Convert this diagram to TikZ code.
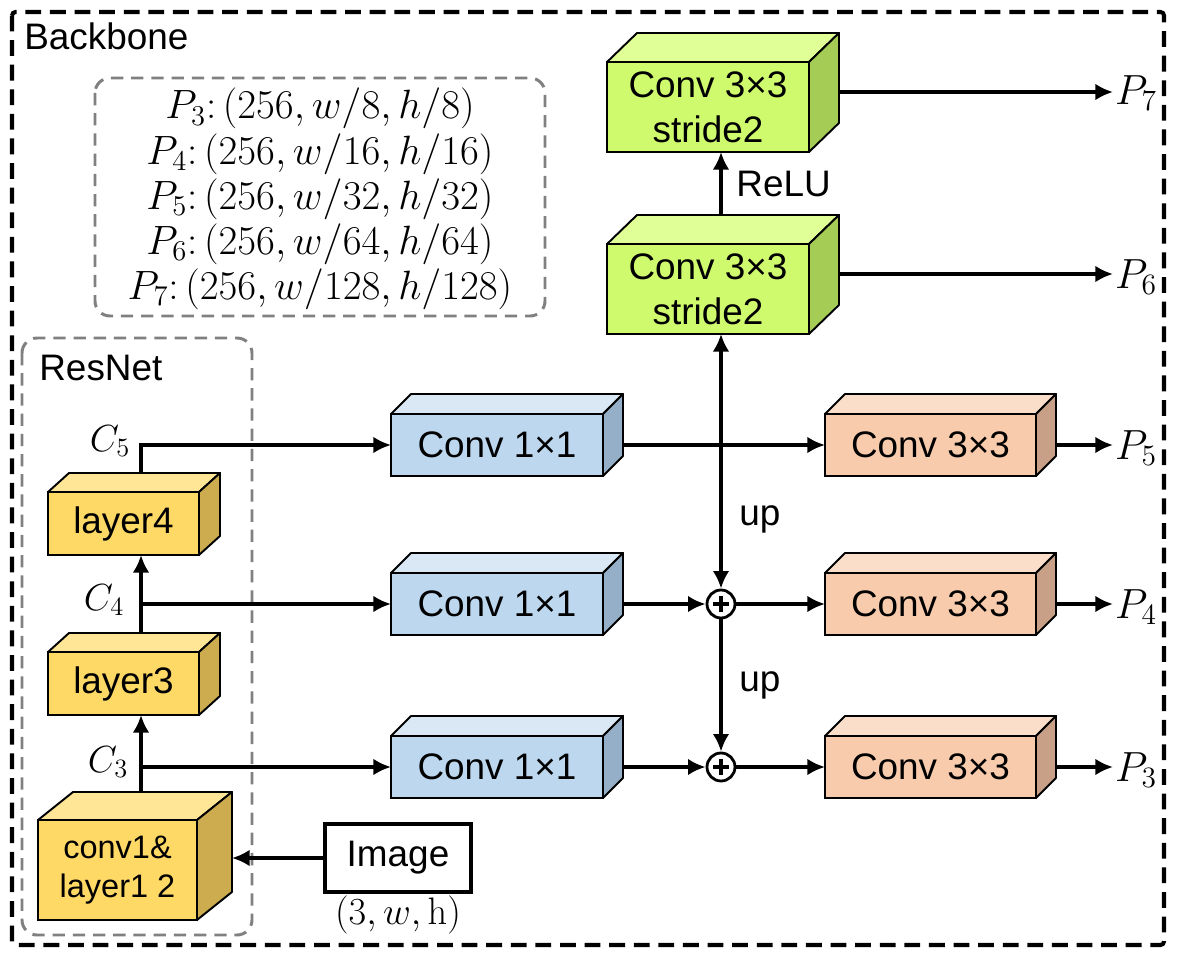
\RequirePackage{fix-cm}
\documentclass[tikz,border=0pt]{standalone}
\usepackage[no-math]{fontspec}
\setmainfont{Liberation Sans}
\usepackage{xcolor}
\usepackage{tikz}
\usetikzlibrary{arrows.meta}

\definecolor{yfront}{RGB}{255,217,102}
\definecolor{ytop}{RGB}{255,230,150}
\definecolor{yside}{RGB}{205,172,80}
\definecolor{bfront}{RGB}{189,215,238}
\definecolor{btop}{RGB}{218,232,245}
\definecolor{bside}{RGB}{150,175,200}
\definecolor{ofront}{RGB}{248,203,173}
\definecolor{otop}{RGB}{251,222,202}
\definecolor{oside}{RGB}{200,160,135}
\definecolor{gfront}{RGB}{208,250,110}
\definecolor{gtop}{RGB}{224,255,150}
\definecolor{gside}{RGB}{165,205,85}
\definecolor{dashgray}{RGB}{128,128,128}

\tikzset{
  txt/.style={font=\fontsize{21}{25.5}\selectfont, inner sep=0pt},
  cube/.style={draw, line width=1.1pt, outer sep=0pt, inner sep=0pt, align=center, font=\fontsize{21}{25.5}\selectfont},
  arr/.style={line width=2.7pt, -{Latex[length=10pt, width=9.5pt]}},
  group/.style={dashgray, line width=1.7pt, dash pattern=on 7pt off 4.5pt, rounded corners=0.3cm},
  frame/.style={black, line width=2.3pt, dash pattern=on 9pt off 5pt, rounded corners=2pt},
  plabel/.style={font=\fontsize{24}{28}\selectfont, inner sep=1pt},
  clabel/.style={font=\fontsize{21.5}{26}\selectfont, inner sep=1pt},
  addnode/.style={circle, draw, line width=1.6pt, fill=white, minimum size=0.56cm, inner sep=0pt,
    path picture={\draw[line width=1.8pt] ([xshift=-0.16cm]path picture bounding box.center) -- ([xshift=0.16cm]path picture bounding box.center)
      ([yshift=-0.16cm]path picture bounding box.center) -- ([yshift=0.16cm]path picture bounding box.center);}}
}

% top and right faces of a block: node, depth x, depth y, top colour, side colour
\newcommand{\drawdepth}[5]{%
  \filldraw[fill=#4, line width=1.1pt, line join=round] (#1.north west) -- ++(#2,-#3) -- ([shift={(#2,-#3)}]#1.north east) -- (#1.north east) -- cycle;
  \filldraw[fill=#5, line width=1.1pt, line join=round] (#1.north east) -- ++(#2,-#3) -- ([shift={(#2,-#3)}]#1.south east) -- (#1.south east) -- cycle;
}

\begin{document}
\begin{tikzpicture}[x=0.02cm, y=-0.02cm]
\useasboundingbox (0,0) rectangle (1181,953);

\draw[frame] (12,12) rectangle (1164,945);
\node[txt, anchor=west] (backbone) at (24,36) {Backbone};

% output sizes
\draw[group] (95,78) rectangle (545,316);
\node[align=center, font=\fontsize{23.3}{25.7}\selectfont] (sizes) at (320,199)
  {$P_3{:}\,(256, w/8, h/8)$\\ $P_4{:}\,(256, w/16, h/16)$\\ $P_5{:}\,(256, w/32, h/32)$\\
   $P_6{:}\,(256, w/64, h/64)$\\ $P_7{:}\,(256, w/128, h/128)$};

% ResNet
\draw[group] (22,338) rectangle (252,935);
\node[txt, anchor=west] (resnet) at (39,368) {ResNet};

\node[cube, fill=yfront, minimum width=3.18cm, minimum height=2cm, font=\fontsize{18.5}{22}\selectfont] (conv1) at (117.5,870) {conv1\&\\layer1 2};
\drawdepth{conv1}{35}{28}{ytop}{yside}
\node[cube, fill=yfront, minimum width=3.02cm, minimum height=1.26cm] (layer3) at (123.5,683.5) {layer3};
\drawdepth{layer3}{21}{19}{ytop}{yside}
\node[cube, fill=yfront, minimum width=3.02cm, minimum height=1.26cm] (layer4) at (123.5,523.5) {layer4};
\drawdepth{layer4}{21}{19}{ytop}{yside}

% lateral 1x1
\node[cube, fill=bfront, minimum width=4.24cm, minimum height=1.24cm] (lat5) at (497,445) {Conv 1×1};
\drawdepth{lat5}{20}{20}{btop}{bside}
\node[cube, fill=bfront, minimum width=4.24cm, minimum height=1.24cm] (lat4) at (497,604) {Conv 1×1};
\drawdepth{lat4}{20}{20}{btop}{bside}
\node[cube, fill=bfront, minimum width=4.24cm, minimum height=1.24cm] (lat3) at (497,767) {Conv 1×1};
\drawdepth{lat3}{20}{20}{btop}{bside}

% output 3x3
\node[cube, fill=ofront, minimum width=4.22cm, minimum height=1.24cm] (out5) at (930.5,445) {Conv 3×3};
\drawdepth{out5}{20}{20}{otop}{oside}
\node[cube, fill=ofront, minimum width=4.22cm, minimum height=1.24cm] (out4) at (930.5,604) {Conv 3×3};
\drawdepth{out4}{20}{20}{otop}{oside}
\node[cube, fill=ofront, minimum width=4.22cm, minimum height=1.24cm] (out3) at (930.5,767) {Conv 3×3};
\drawdepth{out3}{20}{20}{otop}{oside}

% extra levels
\node[cube, fill=gfront, minimum width=4.04cm, minimum height=1.8cm] (conv6) at (708,289) {Conv 3×3\\stride2};
\drawdepth{conv6}{30}{29}{gtop}{gside}
\node[cube, fill=gfront, minimum width=4.04cm, minimum height=1.8cm] (conv7) at (708,107) {Conv 3×3\\stride2};
\drawdepth{conv7}{30}{29}{gtop}{gside}

\node[addnode] (add4) at (721,604) {};
\node[addnode] (add3) at (721,767) {};

\node[draw, line width=1.8pt, fill=white, minimum width=2.92cm, minimum height=1.36cm, txt] (img) at (398,858) {Image};
\node[font=\fontsize{21.8}{26}\selectfont, inner sep=0pt] (imgsize) at (398,915) {$(3, w, \mathrm{h})$};

\node[plabel, anchor=west] (p7) at (1113,93) {$P_7$};
\node[plabel, anchor=west] (p6) at (1113,277) {$P_6$};
\node[plabel, anchor=west] (p5) at (1113,448) {$P_5$};
\node[plabel, anchor=west] (p4) at (1113,607) {$P_4$};
\node[plabel, anchor=west] (p3) at (1113,770) {$P_3$};

\node[clabel] (lc5) at (110,441) {$C_5$};
\node[clabel] (lc4) at (104,600) {$C_4$};
\node[clabel] (lc3) at (108,762) {$C_3$};

\coordinate (c3) at (141,767);
\coordinate (c4) at (141,604);
\coordinate (j5) at (721,445);
\coordinate (c1side) at ([shift={(35,0)}]conv1.east);

% backbone
\draw[arr] (img.west) -- (img.west -| c1side);
\draw[arr] (conv1.north -| c3) ++(0,-28) -- (layer3.south -| c3);
\draw[arr] (layer3.north -| c4) ++(0,-19) -- (layer4.south -| c4);
\draw[arr] (c3) -- (c3 -| lat3.west);
\draw[arr] (c4) -- (c4 -| lat4.west);
\draw[arr] (layer4.north -| c4) ++(0,-19) |- (lat5.west);

% top-down path
\draw[arr] ([shift={(20,0)}]lat5.east) -- (out5.west);
\draw[arr] ([shift={(20,0)}]lat4.east) -- (add4.west);
\draw[arr] ([shift={(20,0)}]lat3.east) -- (add3.west);
\draw[arr] (add4.east) -- (out4.west);
\draw[arr] (add3.east) -- (out3.west);
\draw[arr] (j5) -- (add4.north) node[txt, pos=0.52, right=0.32cm] (up5) {up};
\draw[arr] (add4.south) -- (add3.north) node[txt, midway, right=0.32cm] (up4) {up};
\draw[arr] (j5) -- (j5 |- conv6.south);
\draw[arr] (conv6.north -| j5) ++(0,-29) -- (conv7.south -| j5) node[txt, midway, right=0.26cm] (relu) {ReLU};

% outputs
\draw[arr] ([shift={(30,-15)}]conv7.east) -- ([shift={(0,-15)}]conv7.east -| p7.west);
\draw[arr] ([shift={(30,-15)}]conv6.east) -- ([shift={(0,-15)}]conv6.east -| p6.west);
\draw[arr] ([shift={(20,0)}]out5.east) -- (out5.east -| p5.west);
\draw[arr] ([shift={(20,0)}]out4.east) -- (out4.east -| p4.west);
\draw[arr] ([shift={(20,0)}]out3.east) -- (out3.east -| p3.west);
\end{tikzpicture}
\end{document}
